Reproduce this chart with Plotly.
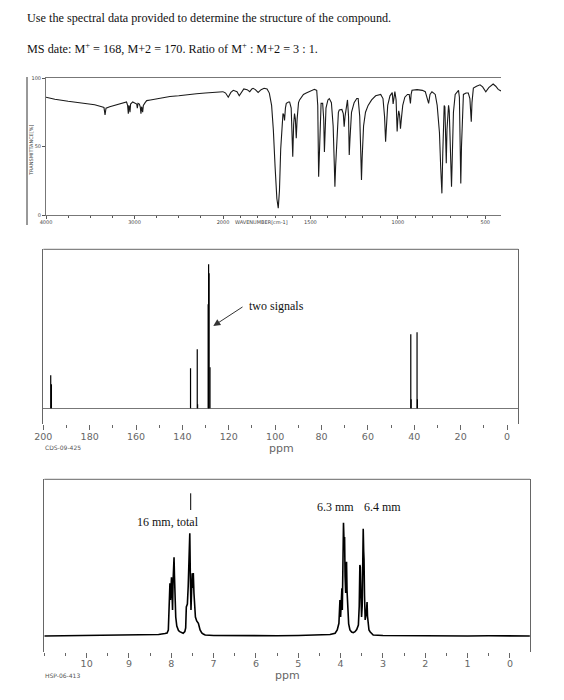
import plotly.graph_objects as go

# ── IR spectrum (wavenumber cm-1, transmittance %) ─────────────
ir_wavenumber = [
    4000, 3900, 3750, 3600, 3450, 3370, 3345, 3333, 3322, 3280, 3200, 3120, 3090,
    3078, 3070, 3063, 3058, 3051, 3044, 3020, 2990, 2975, 2968, 2960, 2945, 2935,
    2927, 2920, 2915, 2908, 2900, 2880, 2862, 2820, 2700, 2600, 2500, 2400, 2300,
    2200, 2100, 2000,
    1985, 1970, 1955, 1941, 1920, 1907, 1890, 1881, 1862, 1847, 1835, 1828, 1815,
    1799, 1782, 1765, 1748, 1735, 1722, 1712, 1702, 1692, 1684, 1677, 1670, 1664,
    1657, 1652, 1648, 1643, 1638, 1625, 1619, 1610, 1604, 1601, 1596, 1591, 1586,
    1581, 1576, 1568, 1562, 1540, 1524, 1500, 1477, 1464, 1458, 1453, 1448, 1442,
    1439, 1430, 1424, 1420, 1416, 1411, 1400, 1392, 1380, 1370, 1363, 1360, 1356,
    1348, 1340, 1335, 1320, 1312, 1307, 1302, 1292, 1288, 1282, 1278, 1274, 1265,
    1250, 1235, 1227, 1218, 1212, 1208, 1204, 1196, 1185, 1170, 1150, 1127, 1098,
    1085, 1076, 1070, 1065, 1058, 1045, 1032, 1027, 1022, 1017, 1010, 1004, 1000,
    995, 990, 985, 980, 972, 960, 945, 935, 928, 924, 919, 890, 860, 843, 832, 824,
    816, 805, 795, 786, 775, 762, 755, 748, 743, 738, 735, 731, 727, 723, 719, 714,
    710, 706, 700, 693, 688, 682, 672, 653, 648, 644, 640, 636, 630, 625, 610, 597,
    588, 584, 580, 576, 568, 550, 530, 515, 497, 480, 455, 440, 426, 410,
]
ir_transmittance = [
    86, 84.5, 83, 81.5, 80.5, 79, 78.5, 73, 78, 79, 80.5, 82, 82.5,
    80, 74, 80, 79, 75, 81, 82.5, 81.5, 81, 78, 81.5, 81, 79,
    74, 79, 78, 75, 80, 82, 83.5, 84, 85.5, 86.5, 87, 88, 88.5,
    89, 89.5, 90,
    89, 86, 89.5, 91, 90, 87, 90.5, 92, 91.5, 90, 92, 92.5, 91.5,
    89.5, 91.5, 92.5, 92, 89, 80, 62, 35, 12, 5, 18, 48, 62,
    74, 73, 69, 78, 81.5, 82.5, 82.5, 78, 55, 42.5, 66, 74, 70,
    56, 70, 82, 84, 88, 89, 90.5, 91.7, 91, 80, 28, 50, 78,
    81.5, 81.5, 70, 46, 60, 78, 84, 85, 82, 65, 35, 20.7, 35,
    62, 75, 76.6, 77, 74, 64.5, 72, 83, 84, 72, 43.8, 55, 75,
    82, 85, 85, 72, 45, 25.5, 42, 65, 75, 80, 84, 87, 88,
    85, 72, 53.5, 65, 80, 87, 89.3, 81, 88, 90, 84, 61, 70,
    76, 73, 63, 70, 80, 86, 88, 88, 81.5, 88, 91, 91.5, 91, 90, 86, 81.5,
    88, 90, 89, 88, 80, 60, 35, 15.8, 45, 75, 80, 79, 65, 37.7, 62, 78,
    80, 76, 55, 20.7, 45, 75, 88, 91, 86, 60, 23, 50, 80, 88, 89, 89,
    85, 75, 68, 82, 92.6, 94, 95, 93.5, 90, 93, 95.6, 94, 91.7, 90.5,
]
ir_ticks_left = [4000, 3000, 2000]
ir_ticks_right = [1500, 1000, 500]

# ── 13C NMR sticks (ppm, height) ───────────────────────────────
c13_ppm = [196.8, 196.5, 136.5, 133.6, 133.45, 128.9, 128.7, 128.5, 128.1,
           41.5, 41.35, 38.8, 38.65]
c13_height = [33, 24, 40, 59, 4, 104, 144, 135, 41, 74, 9, 76, 9]
c13_ticks = [200, 180, 160, 140, 120, 100, 80, 60, 40, 20, 0]

# ── 1H NMR trace (ppm, intensity) ──────────────────────────────
h1_ppm = [
    11.0, 10.5, 10.0, 9.5, 9.0, 8.6, 8.3, 8.15, 8.10, 8.07, 8.055, 8.045, 8.032,
    8.02, 8.008, 7.995, 7.98, 7.97, 7.958, 7.948, 7.935, 7.925, 7.91, 7.895, 7.87,
    7.83, 7.80, 7.75, 7.72, 7.68, 7.66, 7.645, 7.62, 7.60, 7.585, 7.575, 7.563,
    7.55, 7.535, 7.52, 7.505, 7.493, 7.48, 7.465, 7.45, 7.43, 7.40, 7.36, 7.32,
    7.28, 7.245, 7.2, 7.0, 6.5, 6.0, 5.5, 5.0, 4.6, 4.35, 4.25, 4.13, 4.08, 4.04,
    4.025, 4.016, 4.0, 3.985, 3.97, 3.96, 3.945, 3.932, 3.92, 3.906, 3.895, 3.88,
    3.87, 3.86, 3.848, 3.835, 3.82, 3.81, 3.78, 3.74, 3.70, 3.66, 3.62, 3.58, 3.56,
    3.545, 3.535, 3.52, 3.505, 3.49, 3.478, 3.466, 3.455, 3.447, 3.435, 3.42,
    3.405, 3.39, 3.375, 3.365, 3.35, 3.33, 3.30, 3.26, 3.23, 3.0, 2.5, 2.0, 1.5,
    1.0, 0.5, 0.0, -0.47,
]
h1_height = [
    0, 0.3, 0, 0.3, 0.5, 1, 1.5, 2.5, 3, 6, 25, 45, 52.7,
    36, 50, 58.7, 40, 26, 55, 66, 78.7, 60, 39, 19, 10,
    5.5, 4.3, 3, 2.7, 4.5, 8, 29, 32, 50, 72, 80, 102.7,
    60, 26, 45, 62.7, 48, 63, 43, 30, 19, 15, 12.7, 6,
    3, 2, 1, 0.5, 0.3, 0.2, 0.3, 0.5, 0.8, 1.2, 1.5, 2.7, 6, 12.7,
    28, 36, 19, 30, 47.7, 26, 70, 113.3, 96, 99, 60, 43,
    55, 74.3, 45, 36, 20, 12, 6, 4, 3.3, 4.3, 6.5, 11, 30,
    71, 69, 40, 19, 30, 70, 107.3, 85, 77, 40, 16,
    20, 25, 34, 20, 10, 6, 4, 2, 1, 0.5, 0.3, 0, 0.3,
    0, 0.3, 0, 0,
]
h1_ticks = [10, 9, 8, 7, 6, 5, 4, 3, 2, 1, 0]

# ── 共通スタイル ───────────────────────────────────────────────
SERIF = "Liberation Serif, Times New Roman, serif"
SANS = "DejaVu Sans, sans-serif"
W, H = 564, 700


def px_x(v):
    return v / W


def px_y(v):
    return 1 - v / H


fig = go.Figure()

# IR: 4000-2000 と 2000-400 で目盛り間隔が違うので2本のx軸に分ける
ir_left = [(w, t) for w, t in zip(ir_wavenumber, ir_transmittance) if w >= 2000]
ir_right = [(w, t) for w, t in zip(ir_wavenumber, ir_transmittance) if w <= 2000]
ir_line = dict(color="#1a1a1a", width=1.1)
fig.add_trace(go.Scatter(x=[p[0] for p in ir_left], y=[p[1] for p in ir_left],
                         mode="lines", line=ir_line, xaxis="x", yaxis="y",
                         showlegend=False, hoverinfo="skip"))
fig.add_trace(go.Scatter(x=[p[0] for p in ir_right], y=[p[1] for p in ir_right],
                         mode="lines", line=ir_line, xaxis="x2", yaxis="y",
                         showlegend=False, hoverinfo="skip"))

# 13C: 縦線（スティック）
sx, sy = [], []
for p, h in zip(c13_ppm, c13_height):
    sx += [p, p, None]
    sy += [0, h, None]
fig.add_trace(go.Scatter(x=sx, y=sy, mode="lines",
                         line=dict(color="#000000", width=1.2),
                         xaxis="x3", yaxis="y3", showlegend=False, hoverinfo="skip"))

# 1H
fig.add_trace(go.Scatter(x=h1_ppm, y=h1_height, mode="lines",
                         line=dict(color="#000000", width=1.6),
                         xaxis="x4", yaxis="y4", showlegend=False, hoverinfo="skip"))

ir_tickfont = dict(family=SANS, size=5, color="#444")
nmr_tickfont = dict(family=SANS, size=9.5, color="#666")
ir_dom_y = [px_y(215), px_y(78)]

fig.update_layout(
    width=W, height=H, autosize=False,
    margin=dict(l=0, r=0, t=0, b=0, pad=0),
    paper_bgcolor="#FFFFFF", plot_bgcolor="#FFFFFF",
    showlegend=False,
    # IR
    xaxis=dict(domain=[px_x(46), px_x(223)], range=[4000, 2000], automargin=False,
               tickvals=ir_ticks_left, ticks="outside", ticklen=3, tickcolor="#555",
               ticklabelstandoff=-1,
               minor=dict(dtick=250, tick0=0, ticks="outside", ticklen=2, tickcolor="#555"),
               showline=True, linecolor="#777", linewidth=1, mirror=True,
               showgrid=False, zeroline=False, tickfont=ir_tickfont, anchor="y"),
    xaxis2=dict(domain=[px_x(223), px_x(501)], range=[2000, 410], automargin=False,
                tickvals=ir_ticks_right, ticks="outside", ticklen=3, tickcolor="#555",
                ticklabelstandoff=-1,
                minor=dict(dtick=100, tick0=0, ticks="outside", ticklen=2, tickcolor="#555"),
                showline=True, linecolor="#777", linewidth=1, mirror=True,
                showgrid=False, zeroline=False, tickfont=ir_tickfont, anchor="y"),
    yaxis=dict(domain=ir_dom_y, range=[0, 100], dtick=50, ticks="outside", ticklen=3,
               automargin=False,
               tickcolor="#555", showline=True, linecolor="#777", linewidth=1,
               showgrid=False, zeroline=False, tickfont=ir_tickfont, anchor="x"),
    # 13C
    xaxis3=dict(domain=[px_x(43.3), px_x(518.3)], range=[200, -4.87], automargin=False,
                tickvals=c13_ticks, ticks="outside", ticklen=5, tickcolor="#666",
                ticklabelstandoff=-2,
                minor=dict(dtick=10, tick0=0, ticks="outside", ticklen=3, tickcolor="#666"),
                showline=False, showgrid=False, zeroline=False,
                tickfont=nmr_tickfont, anchor="y3"),
    yaxis3=dict(domain=[px_y(424.3), px_y(249.3)], range=[-16, 159], automargin=False,
                showline=True, linecolor="#666", linewidth=1, mirror=True,
                showticklabels=False, ticks="", showgrid=False,
                zeroline=True, zerolinecolor="#777", zerolinewidth=1, anchor="x3"),
    # 1H
    xaxis4=dict(domain=[px_x(44.3), px_x(530)], range=[11.0, -0.474], automargin=False,
                tickvals=h1_ticks, ticks="outside", ticklen=5, tickcolor="#666",
                ticklabelstandoff=-2,
                minor=dict(dtick=0.5, tick0=0, ticks="outside", ticklen=3, tickcolor="#666"),
                showline=False, showgrid=False, zeroline=False,
                tickfont=nmr_tickfont, anchor="y4"),
    yaxis4=dict(domain=[px_y(651.7), px_y(479.3)], range=[-15.7, 156.7], automargin=False,
                showline=True, linecolor="#666", linewidth=1, mirror=True,
                showticklabels=False, ticks="", showgrid=False, zeroline=False,
                anchor="x4"),
)

# 枠の上辺・IRの左外枠・積分マーカー
fig.add_shape(type="line", xref="x3 domain", yref="y3 domain", x0=0, x1=1, y0=1, y1=1,
              line=dict(color="#666", width=1))
fig.add_shape(type="line", xref="x4 domain", yref="y4 domain", x0=0, x1=1, y0=1, y1=1,
              line=dict(color="#666", width=1))
fig.add_shape(type="line", xref="paper", yref="paper", x0=px_x(27), x1=px_x(27),
              y0=px_y(225), y1=px_y(77), line=dict(color="#333", width=1))
fig.add_shape(type="line", xref="paper", yref="paper", x0=px_x(190.7), x1=px_x(190.7),
              y0=px_y(510), y1=px_y(493.3), line=dict(color="#000", width=1))


def note(text, x, y, size=12, family=SERIF, color="#111", xanchor="center", angle=0):
    fig.add_annotation(text=text, x=px_x(x), y=px_y(y), xref="paper", yref="paper",
                       showarrow=False, xanchor=xanchor, yanchor="middle",
                       textangle=angle, font=dict(family=family, size=size, color=color))


note("Use the spectral data provided to determine the structure of the compound.",
     25, 18, size=12.2, xanchor="left")
note("MS date: M<sup>+</sup> = 168, M+2 = 170. Ratio of M<sup>+</sup> : M+2 = 3 : 1.",
     25, 48, size=12.2, xanchor="left")

note("TRANSMITTANCE[%]", 31, 150, size=5, family=SANS, color="#444", angle=-90)
note("WAVENUMBER[cm-1]", 261, 222, size=5, family=SANS, color="#444")

note("two signals", 247, 306, size=12, xanchor="left")
fig.add_annotation(x=px_x(213.3), y=px_y(326), xref="paper", yref="paper", text="",
                   showarrow=True, ax=30.7, ay=-20, arrowhead=2, arrowsize=1.4,
                   arrowwidth=1, arrowcolor="#333", standoff=0)
note("ppm", 281, 448, size=11, family=SANS, color="#666")
note("CDS-09-425", 43, 447, size=6, family=SANS, color="#555", xanchor="left")

note("16 mm, total", 168.3, 522.3, size=12)
note("6.3 mm", 335.8, 507.3, size=12)
note("6.4 mm", 382, 507.3, size=12)
note("ppm", 287.5, 675, size=11, family=SANS, color="#666")
note("HSP-06-413", 43, 675, size=6, family=SANS, color="#555", xanchor="left")

# ページ本体の既定余白(8px)を消して図を左上に合わせる
fig.write_html("out.html", config={"displayModeBar": False},
               post_script="document.body.style.margin='0';")
